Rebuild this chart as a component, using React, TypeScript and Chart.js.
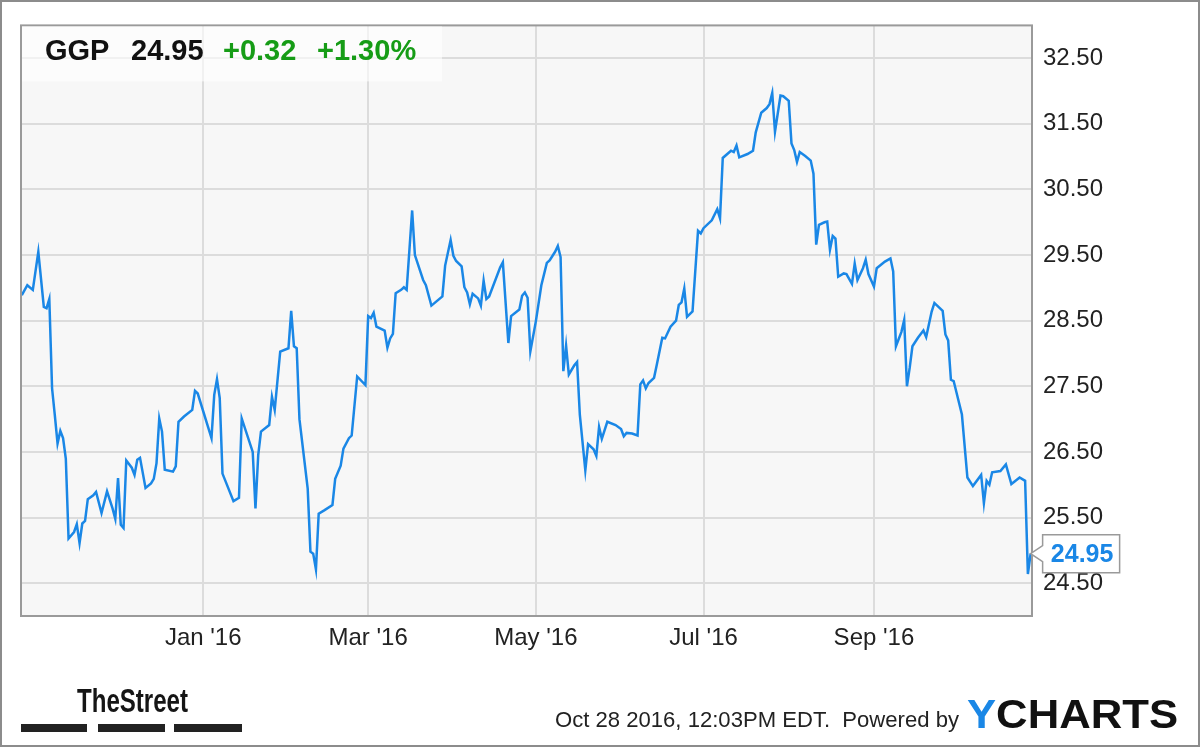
import React, { useEffect, useRef } from "react";
import { Chart, registerables } from "chart.js";

Chart.register(...registerables);

// Days counted from Jan 1 2016 (negative = late 2015)
const days: number[] = [
  -66, -64, -62, -60, -58, -57, -56, -55, -54, -53, -52, -51, -50, -49, -47, -46, -45, -44, -43, -42,
  -40, -39, -37, -35, -33, -32, -31, -30, -29, -28, -26, -25, -24, -23, -21, -19, -18, -17, -16, -15,
  -14, -11, -10, -9, -7, -4, -3, -2, 3, 4, 5, 6, 7, 11, 13, 14, 18, 19, 20, 21,
  24, 25, 26, 28, 31, 32, 33, 34, 35, 38, 39, 40, 41, 42, 44, 47, 48, 50, 51, 53,
  54, 56, 59, 60, 61, 62, 63, 66, 67, 68, 69, 70, 72, 73, 74, 76, 77, 80, 81, 83,
  87, 88, 90, 91, 92, 94, 95, 96, 97, 98, 100, 101, 102, 103, 104, 108, 109, 111, 112, 115,
  116, 117, 118, 119, 121, 123, 125, 126, 128, 129, 130, 131, 132, 133, 135, 136, 137, 139, 140, 142,
  143, 144, 145, 147, 150, 152, 153, 154, 156, 158, 159, 160, 161, 162, 164, 165, 167, 168, 170, 172,
  173, 174, 175, 176, 177, 178, 180, 181, 182, 185, 187, 188, 189, 192, 193, 194, 195, 198, 200, 201,
  203, 205, 206, 207, 208, 210, 211, 213, 214, 215, 216, 217, 219, 221, 222, 223, 224, 226, 227, 228,
  229, 230, 231, 233, 234, 236, 237, 238, 240, 241, 242, 244, 245, 248, 250, 251, 252, 254, 255, 256,
  257, 258, 260, 262, 263, 265, 266, 267, 269, 270, 271, 272, 273, 276, 278, 280, 283, 284, 285, 286,
  287, 290, 292, 294, 297, 299, 300, 301,
];

const prices: number[] = [
  28.89, 29.04, 28.97, 29.55, 28.71, 28.69, 28.83, 27.47, 27.06, 26.63, 26.82, 26.71, 26.4, 25.18, 25.28, 25.4, 25.11, 25.41, 25.45, 25.78,
  25.84, 25.89, 25.57, 25.9, 25.64, 25.48, 26.1, 25.39, 25.34, 26.37, 26.26, 26.15, 26.38, 26.41, 25.95, 26.02, 26.09, 26.33, 27.01, 26.81,
  26.23, 26.2, 26.28, 26.96, 27.04, 27.14, 27.43, 27.39, 26.71, 27.37, 27.61, 27.32, 26.17, 25.75, 25.8, 27.01, 26.5, 25.64, 26.45, 26.81,
  26.91, 27.34, 27.14, 28.03, 28.08, 28.65, 28.11, 28.08, 27.0, 25.94, 24.98, 24.95, 24.71, 25.56, 25.61, 25.69, 26.09, 26.29, 26.55, 26.71,
  26.75, 27.65, 27.52, 28.57, 28.54, 28.62, 28.41, 28.35, 28.09, 28.23, 28.3, 28.92, 28.97, 29.01, 28.97, 30.18, 29.5, 29.12, 29.04, 28.73,
  28.87, 29.34, 29.73, 29.49, 29.41, 29.33, 29.01, 28.93, 28.75, 28.91, 28.84, 28.73, 29.11, 28.83, 28.87, 29.31, 29.39, 28.16, 28.57, 28.67,
  28.88, 28.93, 28.85, 28.03, 28.49, 29.04, 29.38, 29.42, 29.55, 29.64, 29.47, 27.73, 28.12, 27.68, 27.82, 27.87, 27.07, 26.22, 26.62, 26.54,
  26.44, 26.88, 26.7, 26.96, 26.91, 26.85, 26.74, 26.79, 26.78, 26.75, 27.53, 27.59, 27.47, 27.55, 27.63, 27.83, 28.24, 28.23, 28.41, 28.5,
  28.74, 28.78, 28.99, 28.56, 28.6, 28.64, 29.87, 29.83, 29.91, 30.03, 30.2, 30.06, 30.98, 31.09, 31.07, 31.17, 30.99, 31.04, 31.09, 31.37,
  31.67, 31.74, 31.8, 31.97, 31.38, 31.93, 31.92, 31.85, 31.2, 31.1, 30.92, 31.07, 31.01, 30.94, 30.74, 29.66, 29.96, 30.0, 30.01, 29.58,
  29.79, 29.75, 29.17, 29.22, 29.21, 29.06, 29.37, 29.12, 29.3, 29.43, 29.21, 29.02, 29.3, 29.4, 29.45, 29.25, 28.11, 28.33, 28.51, 27.5,
  27.78, 28.11, 28.24, 28.35, 28.25, 28.64, 28.77, 28.73, 28.65, 28.29, 28.2, 27.6, 27.58, 27.07, 26.11, 25.98, 26.15, 25.72, 26.06, 26.0,
  26.19, 26.21, 26.31, 26.01, 26.11, 26.06, 24.64, 24.95,
];

const xTickDays: number[] = [0, 60, 121, 182, 244];
const xTickLabels: string[] = ["Jan '16", "Mar '16", "May '16", "Jul '16", "Sep '16"];
const yTickValues: number[] = [24.5, 25.5, 26.5, 27.5, 28.5, 29.5, 30.5, 31.5, 32.5];

const ticker = "GGP";
const lastPrice = "24.95";
const change = "+0.32";
const changePct = "+1.30%";
const footerText = "Oct 28 2016, 12:03PM EDT.  Powered by";

const FONT = '"Liberation Sans", Arial, Helvetica, sans-serif';
const BLUE = "#1a87e6";
const GREEN = "#169c16";

function fitText(ctx: CanvasRenderingContext2D, text: string, x: number, y: number, width: number) {
  const w = ctx.measureText(text).width;
  ctx.save();
  ctx.translate(x, y);
  ctx.scale(width / w, 1);
  ctx.fillText(text, 0, 0);
  ctx.restore();
}

const decorPlugin = {
  id: "decor",
  beforeDraw(chart: any) {
    const { ctx, chartArea: a } = chart;
    ctx.save();
    ctx.fillStyle = "#ffffff";
    ctx.fillRect(0, 0, chart.width, chart.height);
    ctx.fillStyle = "#f7f7f7";
    ctx.fillRect(a.left, a.top, a.right - a.left, a.bottom - a.top);
    ctx.restore();
  },
  afterDatasetsDraw(chart: any) {
    const { ctx, chartArea: a } = chart;
    ctx.save();
    ctx.strokeStyle = "#9a9a9a";
    ctx.lineWidth = 2;
    ctx.strokeRect(a.left, a.top, a.right - a.left, a.bottom - a.top);
    ctx.restore();
  },
  afterDraw(chart: any) {
    const { ctx, chartArea: a } = chart;
    ctx.save();
    // title band
    ctx.fillStyle = "rgba(255,255,255,0.6)";
    ctx.fillRect(a.left + 1, a.top + 1, 420, 55);
    ctx.textBaseline = "alphabetic";
    ctx.textAlign = "left";
    ctx.font = `bold 29px ${FONT}`;
    ctx.fillStyle = "#111";
    ctx.fillText(ticker, 45, 60);
    ctx.fillText(lastPrice, 131, 60);
    ctx.fillStyle = GREEN;
    ctx.fillText(change, 223, 60);
    ctx.fillText(changePct, 317, 60);

    // last value callout
    const xs = chart.scales.x;
    const ys = chart.scales.y;
    const tx = xs.getPixelForValue(days[days.length - 1]);
    const ty = ys.getPixelForValue(prices[prices.length - 1]);
    const bx = tx + 12;
    const by = ty - 19;
    const bw = 77;
    const bh = 38;
    ctx.beginPath();
    ctx.moveTo(tx, ty);
    ctx.lineTo(bx, ty - 8);
    ctx.lineTo(bx, by);
    ctx.lineTo(bx + bw, by);
    ctx.lineTo(bx + bw, by + bh);
    ctx.lineTo(bx, by + bh);
    ctx.lineTo(bx, ty + 8);
    ctx.closePath();
    ctx.fillStyle = "#ffffff";
    ctx.fill();
    ctx.strokeStyle = "#9a9a9a";
    ctx.lineWidth = 1.5;
    ctx.stroke();
    ctx.font = `bold 25px ${FONT}`;
    ctx.fillStyle = BLUE;
    ctx.textAlign = "center";
    ctx.textBaseline = "middle";
    ctx.fillText(prices[prices.length - 1].toFixed(2), bx + bw / 2 + 1, ty + 1);

    // footer
    ctx.textAlign = "left";
    ctx.textBaseline = "alphabetic";
    ctx.fillStyle = "#151515";
    ctx.font = `bold 34px ${FONT}`;
    fitText(ctx, "TheStreet", 77, 712, 111);
    ctx.fillStyle = "#222";
    ctx.fillRect(21, 724, 66, 8);
    ctx.fillRect(98, 724, 67, 8);
    ctx.fillRect(174, 724, 68, 8);

    ctx.font = `22px ${FONT}`;
    ctx.fillStyle = "#222";
    fitText(ctx, footerText, 555, 727, 404);

    ctx.font = `bold 40px ${FONT}`;
    const wY = ctx.measureText("Y").width;
    const wAll = ctx.measureText("YCHARTS").width;
    const sc = 211 / wAll;
    ctx.save();
    ctx.translate(967, 728);
    ctx.scale(sc, 1);
    ctx.fillStyle = BLUE;
    ctx.fillText("Y", 0, 0);
    ctx.fillStyle = "#111";
    ctx.fillText("CHARTS", wY, 0);
    ctx.restore();

    // outer border
    ctx.strokeStyle = "#8c8c8c";
    ctx.lineWidth = 2;
    ctx.strokeRect(1, 1, chart.width - 2, chart.height - 2);
    ctx.restore();
  },
};

export default function App() {
  const ref = useRef<HTMLCanvasElement | null>(null);

  useEffect(() => {
    if (!ref.current) return;
    const chart = new Chart(ref.current, {
      type: "line",
      data: {
        datasets: [
          {
            data: days.map((d, i) => ({ x: d, y: prices[i] })),
            borderColor: BLUE,
            borderWidth: 2.5,
            pointRadius: 0,
            tension: 0,
            fill: false,
          },
        ],
      },
      options: {
        responsive: false,
        animation: false,
        devicePixelRatio: 1,
        layout: { padding: { left: 21, top: 21, right: 0, bottom: 0 } },
        plugins: { legend: { display: false }, tooltip: { enabled: false } },
        scales: {
          x: {
            type: "linear",
            min: -66.3,
            max: 301.5,
            afterBuildTicks: (s: any) => {
              s.ticks = xTickDays.map((v) => ({ value: v }));
            },
            afterFit: (s: any) => {
              s.height = 131;
            },
            ticks: {
              autoSkip: false,
              maxRotation: 0,
              padding: 8,
              color: "#222",
              font: { family: FONT, size: 24 },
              callback: (v: any) => {
                const i = xTickDays.indexOf(Number(v));
                return i >= 0 ? xTickLabels[i] : "";
              },
            },
            grid: { color: "#dcdcdc", lineWidth: 2, drawTicks: false },
            border: { display: false },
          },
          y: {
            type: "linear",
            position: "right",
            min: 24,
            max: 33,
            afterBuildTicks: (s: any) => {
              s.ticks = yTickValues.map((v) => ({ value: v }));
            },
            afterFit: (s: any) => {
              s.width = 168;
            },
            ticks: {
              padding: 11,
              color: "#222",
              font: { family: FONT, size: 24 },
              callback: (v: any) => Number(v).toFixed(2),
            },
            grid: { color: "#dcdcdc", lineWidth: 2, drawTicks: false },
            border: { display: false },
          },
        },
      },
      plugins: [decorPlugin],
    } as any);
    return () => chart.destroy();
  }, []);

  return (
    <div style={{ position: "absolute", left: 0, top: 0, width: 1200, height: 747, background: "#fff" }}>
      <canvas ref={ref} width={1200} height={747} style={{ display: "block", width: 1200, height: 747 }} />
    </div>
  );
}
